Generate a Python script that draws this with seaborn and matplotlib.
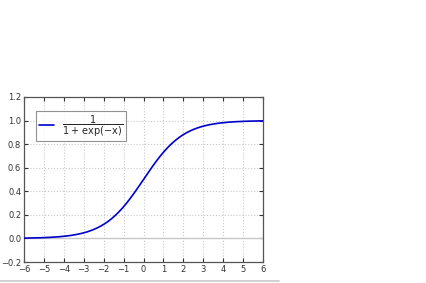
import numpy as np
import pandas as pd
import seaborn as sns
import matplotlib
matplotlib.use("Agg")
import matplotlib.pyplot as plt
from matplotlib.lines import Line2D

x_values = np.linspace(-6, 6, 200)
y_values = 1.0 / (1.0 + np.exp(-x_values))
x_ticks = [-6, -5, -4, -3, -2, -1, 0, 1, 2, 3, 4, 5, 6]
y_ticks = [-0.2, 0.0, 0.2, 0.4, 0.6, 0.8, 1.0, 1.2]
label = r"$\dfrac{1}{1+\,\exp(-\mathrm{x})}$"

df = pd.DataFrame({"x": x_values, "y": y_values})

sns.set_style("white")
plt.rcParams["font.family"] = ["DejaVu Sans"]
plt.rcParams["mathtext.fontset"] = "dejavusans"

fig = plt.figure(figsize=(4.26, 2.83), dpi=100)
ax = fig.add_axes([24/426, 21/283, 239/426, 165/283])

ax.axhline(0, color="#c8c8c8", lw=1.0, zorder=1)
sns.lineplot(data=df, x="x", y="y", ax=ax, color="#0000cc", lw=1.2,
             label=label, zorder=3)

ax.set_xlim(-6, 6)
ax.set_ylim(-0.2, 1.2)
ax.set_xticks(x_ticks)
ax.set_yticks(y_ticks)
ax.set_xticklabels(["\u2212%d" % -t if t < 0 else str(t) for t in x_ticks])
ax.set_yticklabels(["\u2212%.1f" % -t if t < 0 else "%.1f" % t for t in y_ticks])
ax.set_xlabel("")
ax.set_ylabel("")
ax.grid(True, color="#c8c8c8", linestyle=":", lw=0.8)
ax.tick_params(direction="in", length=3, labelsize=6, colors="#333333",
               pad=2, top=True, right=True, bottom=True, left=True)
for s in ax.spines.values():
    s.set_color("#555555")
    s.set_linewidth(0.9)

leg = ax.legend(loc="upper left", bbox_to_anchor=(0.04, 0.93), fontsize=7,
                frameon=True, fancybox=False, handlelength=1.6,
                borderpad=0.25, borderaxespad=0.3)
leg.get_frame().set_edgecolor("#777777")
leg.get_frame().set_linewidth(0.8)

fig.add_artist(Line2D([0, 279/426], [2/283, 2/283], color="#c8c8c8", lw=1.2,
                      transform=fig.transFigure))

fig.savefig("out.png", dpi=100)
